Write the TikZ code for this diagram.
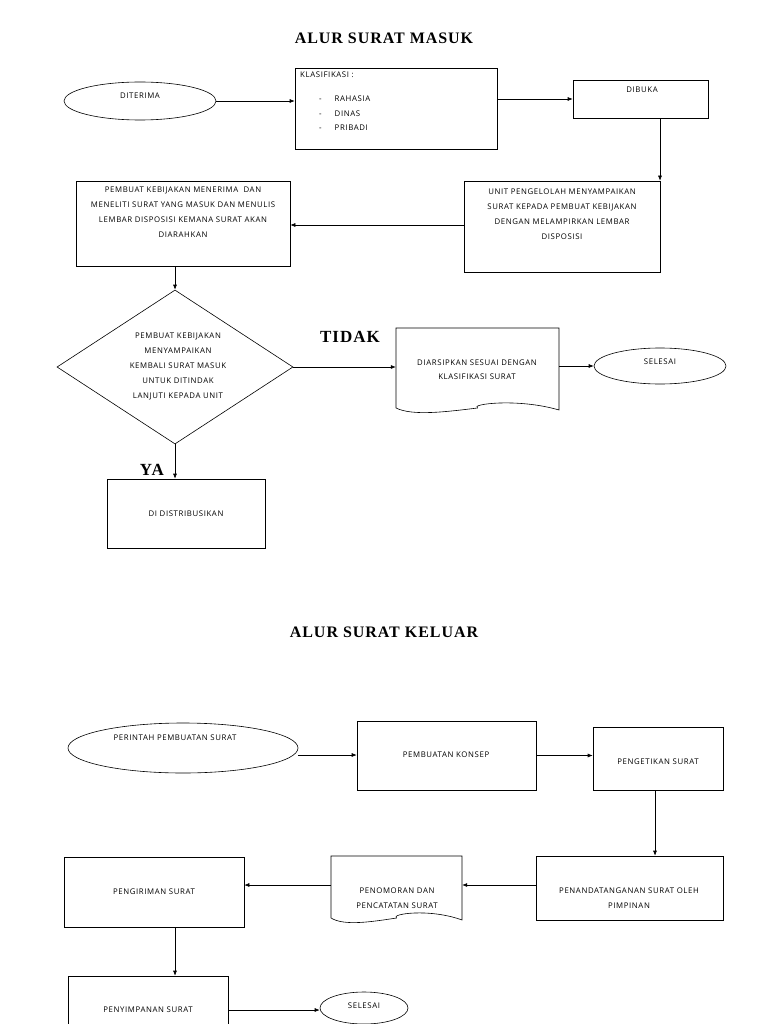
\documentclass[tikz,border=0pt]{standalone}
\usepackage{fontspec}
\setmainfont{Open Sans}[LetterSpace=8]
\newfontfamily\titlefont{Liberation Serif}[LetterSpace=6]
\usetikzlibrary{arrows.meta,shapes.geometric}
\tikzset{
  txt/.style={font=\fontsize{7.8}{11}\selectfont, align=center, inner sep=1pt},
  box/.style={draw, line width=0.6pt, rectangle, minimum width=#1, inner sep=0pt},
  ell/.style={draw, line width=0.6pt, ellipse, inner sep=0pt},
  arr/.style={-{Latex[length=5pt,width=4pt]}, line width=0.6pt},
  ttl/.style={font=\titlefont\fontsize{16}{18}\selectfont\bfseries},
  lbl/.style={font=\titlefont\fontsize{17}{18}\selectfont\bfseries},
}
\newcommand{\docpath}[4]{% x1 y1 x2 y2
  \draw[line width=0.6pt] (#1,#2) -- (#3,#2) -- (#3,#4)
    .. controls ({#3-(#3-#1)*0.25},{#4-12}) and ({#3-(#3-#1)*0.55},{#4-6}) .. ({(#1+#3)/2},{#4-2})
    .. controls ({#1+(#3-#1)*0.3},{#4+2}) and ({#1+(#3-#1)*0.1},{#4+6}) .. (#1,{#4-2}) -- cycle;}
\begin{document}
\begin{tikzpicture}[x=1pt,y=-1pt]
\useasboundingbox (0,0) rectangle (768,1024);
% ---- masuk
\node[ttl] (t1) at (384,38) {ALUR SURAT MASUK};
\node[ell, minimum width=152, minimum height=38] (dit) at (140,101) {};
\node[txt] at (140,96) {DITERIMA};
\node[box=202, minimum height=81] (kla) at (396,108.5) {};
\node[txt, anchor=north west, align=left] at (299,71) {KLASIFIKASI :};
\node[txt, anchor=north west, align=left, font=\fontsize{7.8}{14.5}\selectfont] at (318,95) {-\hspace{13pt}RAHASIA\\-\hspace{13pt}DINAS\\-\hspace{13pt}PRIBADI};
\node[box=135, minimum height=38] (dib) at (640.5,99) {};
\node[txt] at (642,90) {DIBUKA};
\node[box=196, minimum height=91] (uni) at (562,226.5) {};
\node[txt, font=\fontsize{7.8}{15}\selectfont] at (562,214) {UNIT PENGELOLAH MENYAMPAIKAN\\SURAT KEPADA PEMBUAT KEBIJAKAN\\DENGAN MELAMPIRKAN LEMBAR\\DISPOSISI};
\node[box=214, minimum height=85] (pem) at (183,223.5) {};
\node[txt, font=\fontsize{7.8}{15}\selectfont] at (183,212) {PEMBUAT KEBIJAKAN MENERIMA \ DAN\\MENELITI SURAT YANG MASUK DAN MENULIS\\LEMBAR DISPOSISI KEMANA SURAT AKAN\\DIARAHKAN};
\node[draw, line width=0.6pt, diamond, aspect=1.53, minimum width=236, minimum height=154, inner sep=0pt] (dia) at (175,367) {};
\node[txt, font=\fontsize{7.8}{15}\selectfont] at (178,366) {PEMBUAT KEBIJAKAN\\MENYAMPAIKAN\\KEMBALI SURAT MASUK\\UNTUK DITINDAK\\LANJUTI KEPADA UNIT};
\node[minimum width=163, minimum height=82, inner sep=0pt] (arsip) at (477.5,369) {};
\docpath{396}{328}{559}{410}
\node[txt, font=\fontsize{7.8}{14}\selectfont] at (477,370) {DIARSIPKAN SESUAI DENGAN\\KLASIFIKASI SURAT};
\node[ell, minimum width=132, minimum height=36] (sel1) at (660,366) {};
\node[txt] at (660,362) {SELESAI};
\node[box=158, minimum height=69] (dis) at (186,513.5) {};
\node[txt] at (186,514) {DI DISTRIBUSIKAN};
\node[lbl] at (350,337) {TIDAK};
\node[lbl] at (152,470) {YA};
\draw[arr] (dit.east) -- (kla.west|-dit.east);
\draw[arr] (kla.east|-dib.west) -- (dib.west);
\draw[arr] (dib.south-|660,0) -- (uni.north-|660,0);
\draw[arr] (uni.west|-0,225) -- (pem.east|-0,225);
\draw[arr] (pem.south-|175,0) -- (dia.north);
\draw[arr] (dia.east) -- (arsip.west|-dia.east);
\draw[arr] (arsip.east|-sel1.west) -- (sel1.west);
\draw[arr] (dia.south) -- (dis.north-|175,0);
% ---- keluar
\node[ttl] (t2) at (384,632) {ALUR SURAT KELUAR};
\node[ell, minimum width=230, minimum height=50] (per) at (183,748) {};
\node[txt] at (175,738) {PERINTAH PEMBUATAN SURAT};
\node[box=179, minimum height=69] (kon) at (446.5,755.5) {};
\node[txt] at (446,755) {PEMBUATAN KONSEP};
\node[box=130, minimum height=63] (ket) at (658,758.5) {};
\node[txt] at (658,762) {PENGETIKAN SURAT};
\node[box=187, minimum height=64] (ttd) at (629.5,888) {};
\node[txt, font=\fontsize{7.8}{15}\selectfont] at (629,898) {PENANDATANGANAN SURAT OLEH\\PIMPINAN};
\node[minimum width=131, minimum height=64, inner sep=0pt] (nom) at (396.5,888) {};
\docpath{331}{856}{462}{920}
\node[txt, font=\fontsize{7.8}{15}\selectfont] at (397,898) {PENOMORAN DAN\\PENCATATAN SURAT};
\node[box=180, minimum height=70] (kir) at (154,892) {};
\node[txt] at (154,892) {PENGIRIMAN SURAT};
\node[box=160, minimum height=70] (sim) at (148,1011) {};
\node[txt] at (148,1010) {PENYIMPANAN SURAT};
\node[ell, minimum width=88, minimum height=32] (sel2) at (364,1008) {};
\node[txt] at (364,1006) {SELESAI};
\draw[arr] (per.east|-0,755) -- (kon.west|-0,755);
\draw[arr] (kon.east) -- (ket.west|-kon.east);
\draw[arr] (ket.south-|655,0) -- (ttd.north-|655,0);
\draw[arr] (ttd.west|-0,885) -- (nom.east|-0,885);
\draw[arr] (nom.west|-0,885) -- (kir.east|-0,885);
\draw[arr] (kir.south-|175,0) -- (sim.north-|175,0);
\draw[arr] (sim.east|-0,1010) -- (sel2.west|-0,1010);
\end{tikzpicture}
\end{document}
